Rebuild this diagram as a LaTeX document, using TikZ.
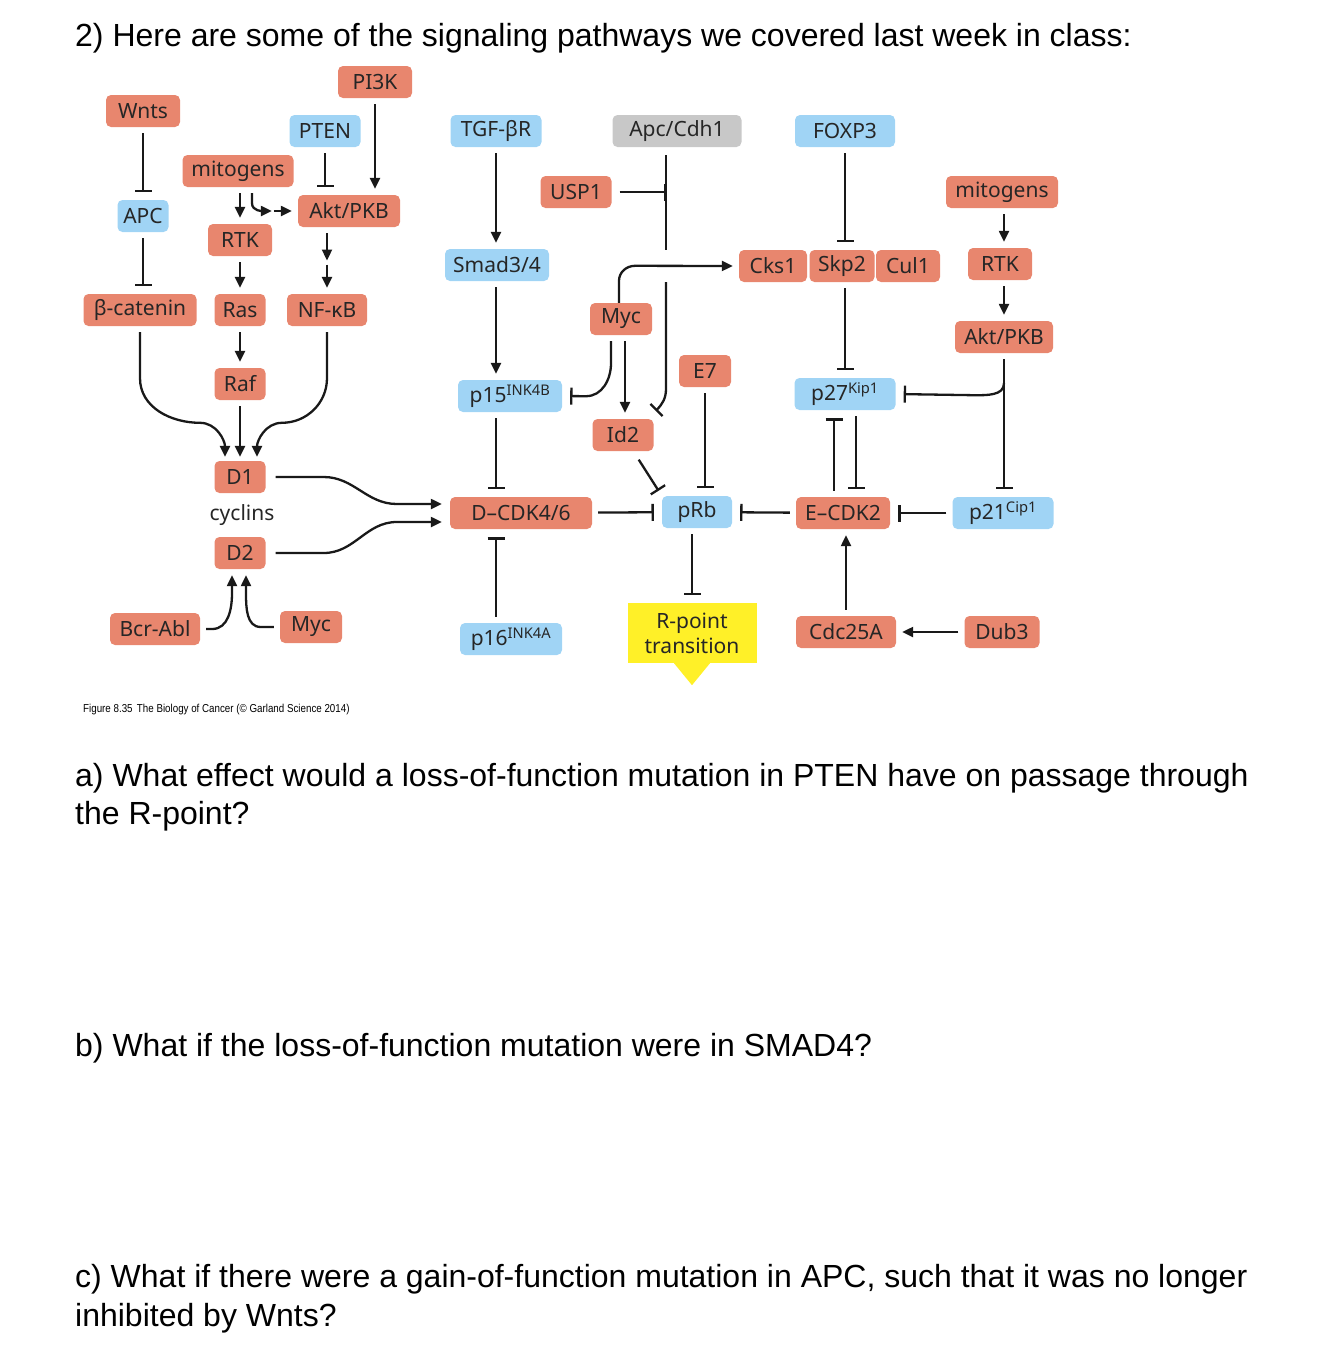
\documentclass[tikz,border=0pt]{standalone}
\usepackage{fontspec}
\setmainfont{Liberation Sans}
\newfontfamily\boxfont{Noto Sans}
\usetikzlibrary{arrows.meta,calc}
\definecolor{salmon}{RGB}{232,134,110}
\definecolor{skyb}{RGB}{160,212,245}
\definecolor{greyb}{RGB}{200,200,200}
\definecolor{yel}{RGB}{255,240,40}
\begin{document}
\begin{tikzpicture}[x=1pt,y=-1pt,
  box/.style={rounded corners=5pt,minimum height=32pt,inner xsep=2pt,inner ysep=0pt,
    font=\boxfont\fontsize{21}{23}\selectfont,text=black!85},
  red/.style={box,fill=salmon},
  blu/.style={box,fill=skyb},
  gry/.style={box,fill=greyb},
  ln/.style={line width=2.3pt,black!90},
  act/.style={ln,-{Triangle[width=10pt,length=11pt]},shorten <=6pt,shorten >=6pt},
  inh/.style={ln,-{Bar[width=17pt,line width=2.3pt]},shorten <=6pt,shorten >=8pt},
  tri/.style={ln,-{Triangle[width=10pt,length=11pt]}},
  bar/.style={ln,-{Bar[width=17pt,line width=2.3pt]}},
  q/.style={font=\fontsize{32}{38}\selectfont,anchor=west,inner sep=0pt}]
\useasboundingbox (0,0) rectangle (1324,1353);

% header and questions
\node[q] (hdr) at (75,38) {2) Here are some of the signaling pathways we covered last week in class:};
\node[q] (qa1) at (75,778) {a) What effect would a loss-of-function mutation in PTEN have on passage through};
\node[q] (qa2) at (75,816) {the R-point?};
\node[q] (qb) at (75,1048) {b) What if the loss-of-function mutation were in SMAD4?};
\node[q] (qc1) at (75,1279) {c) What if there were a gain-of-function mutation in APC, such that it was no longer};
\node[q] (qc2) at (75,1318) {inhibited by Wnts?};
\node[anchor=west,inner sep=0pt,font=\fontsize{11.5}{13}\selectfont] (cap) at (83,710)
  {\scalebox{0.85}[1]{Figure 8.35\, The Biology of Cancer (\textcopyright\ Garland Science 2014)}};

% left column
\node[red,minimum width=74pt] (pi3k) at (375,82) {PI3K};
\node[red,minimum width=74pt] (wnts) at (143,111) {Wnts};
\node[blu,minimum width=71pt] (pten) at (325,131) {PTEN};
\node[red,minimum width=111pt] (mito) at (238,171) {mitogens};
\node[blu,minimum width=51pt] (apc) at (143,216) {APC};
\node[red,minimum width=102pt] (akt) at (349,211) {Akt/PKB};
\node[red,minimum width=64pt] (rtk) at (240,240) {RTK};
\node[red,minimum width=113pt] (bcat) at (140,310) {β-catenin};
\node[red,minimum width=51pt] (ras) at (240,310) {Ras};
\node[red,minimum width=80pt] (nfkb) at (327,310) {NF-κB};
\node[red,minimum width=51pt] (raf) at (240,384) {Raf};
\node[red,minimum width=51pt] (d1) at (240,477) {D1};
\node[box] (cyc) at (242,515) {cyclins};
\node[red,minimum width=51pt] (d2) at (240,553) {D2};
\node[red,minimum width=90pt] (bcr) at (155,629) {Bcr-Abl};
\node[red,minimum width=62pt] (myca) at (311,627) {Myc};

% middle column
\node[blu,minimum width=91pt] (tgf) at (496,131) {TGF-βR};
\node[gry,minimum width=129pt] (cdh) at (677,131) {Apc/Cdh1};
\node[red,minimum width=71pt] (usp) at (576,192) {USP1};
\node[blu,minimum width=104pt] (smad) at (497,265) {Smad3/4};
\node[red,minimum width=62pt] (mycb) at (621,319) {Myc};
\node[blu,minimum width=104pt] (p15) at (510,396) {p15\textsuperscript{INK4B}};
\node[red,minimum width=52pt] (e7) at (705,371) {E7};
\node[red,minimum width=61pt] (id2) at (623,435) {Id2};
\node[red,minimum width=142pt] (dcdk) at (521,513) {D–CDK4/6};
\node[blu,minimum width=70pt] (prb) at (697,512) {pRb};
\node[blu,minimum width=102pt] (p16) at (511,639) {p16\textsuperscript{INK4A}};
\node[box,fill=yel,rounded corners=0pt,minimum width=129pt,minimum height=60pt,align=center,
  font=\boxfont\fontsize{21}{25}\selectfont] (rpt) at (692,633) {R-point\\transition};
\fill[yel] ($(rpt.south)+(-18,0)$) -- ($(rpt.south)+(18,0)$) -- ($(rpt.south)+(0,22)$) -- cycle;

% right column
\node[blu,minimum width=100pt] (foxp) at (845,131) {FOXP3};
\node[red,minimum width=68pt] (cks) at (773,266) {Cks1};
\node[red,minimum width=65pt] (skp) at (842,266) {Skp2};
\node[red,minimum width=64pt] (cul) at (908,266) {Cul1};
\node[red,minimum width=112pt] (mitob) at (1002,192) {mitogens};
\node[red,minimum width=64pt] (rtkb) at (1000,264) {RTK};
\node[red,minimum width=98pt] (aktb) at (1004,337) {Akt/PKB};
\node[blu,minimum width=101pt] (p27) at (845,394) {p27\textsuperscript{Kip1}};
\node[red,minimum width=94pt] (ecdk) at (843,513) {E–CDK2};
\node[blu,minimum width=101pt] (p21) at (1003,513) {p21\textsuperscript{Cip1}};
\node[red,minimum width=100pt] (cdc) at (846,632) {Cdc25A};
\node[red,minimum width=75pt] (dub) at (1002,632) {Dub3};

% --- left connectors
\draw[inh] (wnts) -- (apc);
\draw[inh] (apc) -- (apc|-bcat.north);
\draw[inh] (pten) -- (pten|-akt.north);
\draw[act] (pi3k) -- (pi3k|-akt.north);
\draw[act] (mito.south-|rtk) -- (rtk);
\coordinate (mk) at ($(akt.west)+(-26,0)$);
\draw[tri] ($(mito.south)+(14,6)$) -- ++(0,10) to[out=-90,in=180] (mk);
\draw[act,shorten <=2pt] (mk) -- (akt.west);
\coordinate (nk) at ($(akt.south-|nfkb)!0.5!(nfkb.north)$);
\draw[tri,shorten <=6pt] (akt.south-|nfkb) -- (nk);
\draw[act,shorten <=4pt] (nk) -- (nfkb);
\draw[act] (rtk) -- (ras);
\draw[act] (ras) -- (raf);
\coordinate (fa) at ($(d1.north)+(-15,-4)$);
\coordinate (fb) at ($(d1.north)+(0,-4)$);
\coordinate (fc) at ($(d1.north)+(17,-4)$);
\draw[tri,shorten <=6pt] (bcat.south) -- ++(0,52) to[out=-90,in=180] ($(fa)+(-25,-34)$) to[out=0,in=90] (fa);
\draw[tri,shorten <=6pt] (raf.south) -- (fb);
\draw[tri,shorten <=6pt] (nfkb.south) -- ++(0,52) to[out=-90,in=0] ($(fc)+(25,-34)$) to[out=180,in=90] (fc);
\coordinate (da) at ($(dcdk.west)+(-8,-9)$);
\coordinate (db) at ($(dcdk.west)+(-8,9)$);
\draw[tri,shorten <=10pt] (d1.east) -- ++(58,0) to[out=0,in=180] ($(da)+(-45,0)$) -- (da);
\draw[tri,shorten <=10pt] (d2.east) -- ++(58,0) to[out=0,in=180] ($(db)+(-45,0)$) -- (db);
\draw[tri,shorten <=6pt] (bcr.east) -- ++(12,0) to[out=0,in=-90] ($(d2.south)+(-8,24)$) -- ($(d2.south)+(-8,6)$);
\draw[tri,shorten <=6pt] (myca.west) -- ++(-19,0) to[out=180,in=-90] ($(d2.south)+(6,24)$) -- ($(d2.south)+(6,6)$);

% --- middle connectors
\draw[act] (tgf) -- (tgf|-smad.north);
\draw[act] (smad.south-|tgf) -- (tgf|-p15.north);
\draw[inh] (p15.south-|tgf) -- (tgf|-dcdk.north);
\draw[inh] (p16.north-|tgf) -- (tgf|-dcdk.south);
\draw[inh] (dcdk) -- (prb);
\coordinate (cx) at ($(cdh.south)+(-11,0)$);
\draw[ln,shorten <=8pt] (cx) -- (cx|-cks.north);
\draw[bar] (cx|-cks.south) -- ($(cx|-id2.north)+(0,-30)$) to[out=-90,in=45] ($(id2.north east)+(2,-8)$);
\draw[bar,shorten <=8pt] (usp.east) -- (usp.east-|cx);
\draw[tri,shorten >=6pt] ($(mycb.north)+(-2,0)$) -- ++(0,-22) to[out=90,in=180] ($(mycb.north)+(14,-37)$) -- (cks.west);
\draw[bar,shorten >=8pt] ($(mycb.south)+(-10,6)$) -- ++(0,22) to[out=-90,in=0] ($(mycb.south)+(-35,61)$) -- (p15.east);
\draw[act] ($(mycb.south)+(4,0)$) -- ($(id2.north)+(2,0)$);
\draw[inh,shorten <=10pt,shorten >=6pt] (id2) -- (prb.north west);
\draw[inh] (e7) -- (e7|-prb.north);
\draw[inh] (prb.south-|rpt) -- (rpt);

% --- right connectors
\draw[inh] (foxp) -- (skp.north-|foxp);
\draw[inh] (skp.south-|foxp) -- (foxp|-p27.north);
\draw[act] (mitob.south-|aktb) -- (aktb|-rtkb.north);
\draw[act] (rtkb.south-|aktb) -- (aktb);
\draw[inh] (aktb) -- (aktb|-p21.north);
\draw[bar,shorten >=8pt] ($(aktb.south)+(0,30)$) to[out=-90,in=0] ($(aktb.south)+(-30,42)$) -- (p27.east);
\coordinate (ea) at ($(ecdk.north)+(-9,0)$);
\coordinate (eb) at ($(ecdk.north)+(13,0)$);
\draw[inh] (ea) -- (ea|-p27.south);
\draw[inh] (eb|-p27.south) -- (eb);
\draw[inh] (ecdk) -- (prb);
\draw[inh] (p21) -- (ecdk);
\draw[act] (cdc) -- (cdc|-ecdk.south);
\draw[act] (dub) -- (cdc);
\end{tikzpicture}
\end{document}
